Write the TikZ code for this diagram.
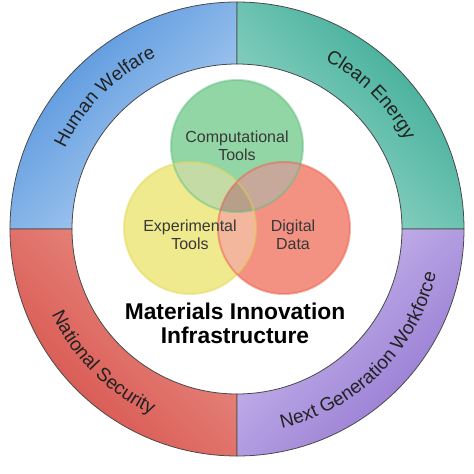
\documentclass[tikz,border=0pt]{standalone}
\usepackage{fontspec}
\setmainfont{Liberation Sans}
\usetikzlibrary{decorations.text}

\definecolor{ringline}{HTML}{4A4A4A}
\definecolor{ringtext}{HTML}{222222}
\definecolor{venntext}{HTML}{383838}
\definecolor{welfareD}{HTML}{4E90DC}
\definecolor{welfareL}{HTML}{BAD6F3}
\definecolor{energyD}{HTML}{35A892}
\definecolor{energyL}{HTML}{A4DDD0}
\definecolor{securityD}{HTML}{D6504A}
\definecolor{securityL}{HTML}{EA948A}
\definecolor{workforceD}{HTML}{9274D0}
\definecolor{workforceL}{HTML}{D0C2F0}
\definecolor{vennG}{HTML}{92D6A6}
\definecolor{vennY}{HTML}{F0EA8E}
\definecolor{vennR}{HTML}{F39282}
\definecolor{ovGY}{HTML}{C4DBA6}
\definecolor{ovGR}{HTML}{C6A99B}
\definecolor{ovYR}{HTML}{F2B79C}
\definecolor{ovGYR}{HTML}{B79F8A}
\definecolor{edgeG}{HTML}{5BBF7C}
\definecolor{edgeY}{HTML}{E2D64E}
\definecolor{edgeR}{HTML}{EE5A48}

\newcommand{\ringfont}{\fontsize{19}{19}\selectfont}

\tikzset{
  segment/.style={draw=ringline, line width=0.8pt},
  ringlabel/.style={decorate, decoration={text along path, text={|\ringfont|#1},
    text align=center, text color=ringtext}},
  vennlabel/.style={align=center, text=venntext, font=\fontsize{16}{18}\selectfont},
  vennedge/.style={line width=2pt, draw opacity=0.45},
}

\begin{document}
\begin{tikzpicture}
\useasboundingbox (-237pt,-245pt) rectangle (237pt,229pt);
\fill[white] (-237pt,-245pt) rectangle (237pt,229pt);
\def \inr{165pt}
\def \outr{227pt}
% outer ring
\foreach \startang/\endang/\tone/\shang in {90/180/welfare/45, 0/90/energy/-45, 180/270/security/135, 270/360/workforce/225}
  \shadedraw[segment, top color=\tone D, bottom color=\tone L, shading angle=\shang]
    (\startang:\inr) arc[start angle=\startang, end angle=\endang, radius=\inr]
    -- (\endang:\outr) arc[start angle=\endang, end angle=\startang, radius=\outr] -- cycle;
\path[ringlabel=Human Welfare] (180:190pt) arc[start angle=180, end angle=90, radius=190pt];
\path[ringlabel=Clean Energy] (90:190pt) arc[start angle=90, end angle=0, radius=190pt];
\path[ringlabel=National Security] (180:204pt) arc[start angle=180, end angle=270, radius=204pt];
\path[ringlabel=Next Generation Workforce] (270:204pt) arc[start angle=270, end angle=360, radius=204pt];
% venn circles
\def \vr{66pt}
\coordinate (gc) at (0pt,83pt);
\coordinate (yc) at (-47pt,1pt);
\coordinate (rc) at (47pt,1pt);
\fill[vennG] (gc) circle (\vr);
\fill[vennY] (yc) circle (\vr);
\fill[vennR] (rc) circle (\vr);
\begin{scope}
  \clip (yc) circle (\vr);
  \fill[ovYR] (rc) circle (\vr);
\end{scope}
\begin{scope}
  \clip (gc) circle (\vr);
  \fill[ovGY] (yc) circle (\vr);
  \fill[ovGR] (rc) circle (\vr);
  \clip (yc) circle (\vr);
  \fill[ovGYR] (rc) circle (\vr);
\end{scope}
\draw[vennedge, edgeG] (gc) circle (\vr);
\draw[vennedge, edgeY] (yc) circle (\vr);
\draw[vennedge, edgeR] (rc) circle (\vr);
\node (comp) [vennlabel] at (0pt,83pt) {Computational\\Tools};
\node (exper) [vennlabel] at (-47pt,-5.7pt) {Experimental\\Tools};
\node (digital) [vennlabel] at (56pt,-5.7pt) {Digital\\Data};
\node (title) [align=center, font=\fontsize{22.8}{24}\selectfont\bfseries] at (-2pt,-94pt)
  {Materials Innovation\\Infrastructure};
\end{tikzpicture}
\end{document}
